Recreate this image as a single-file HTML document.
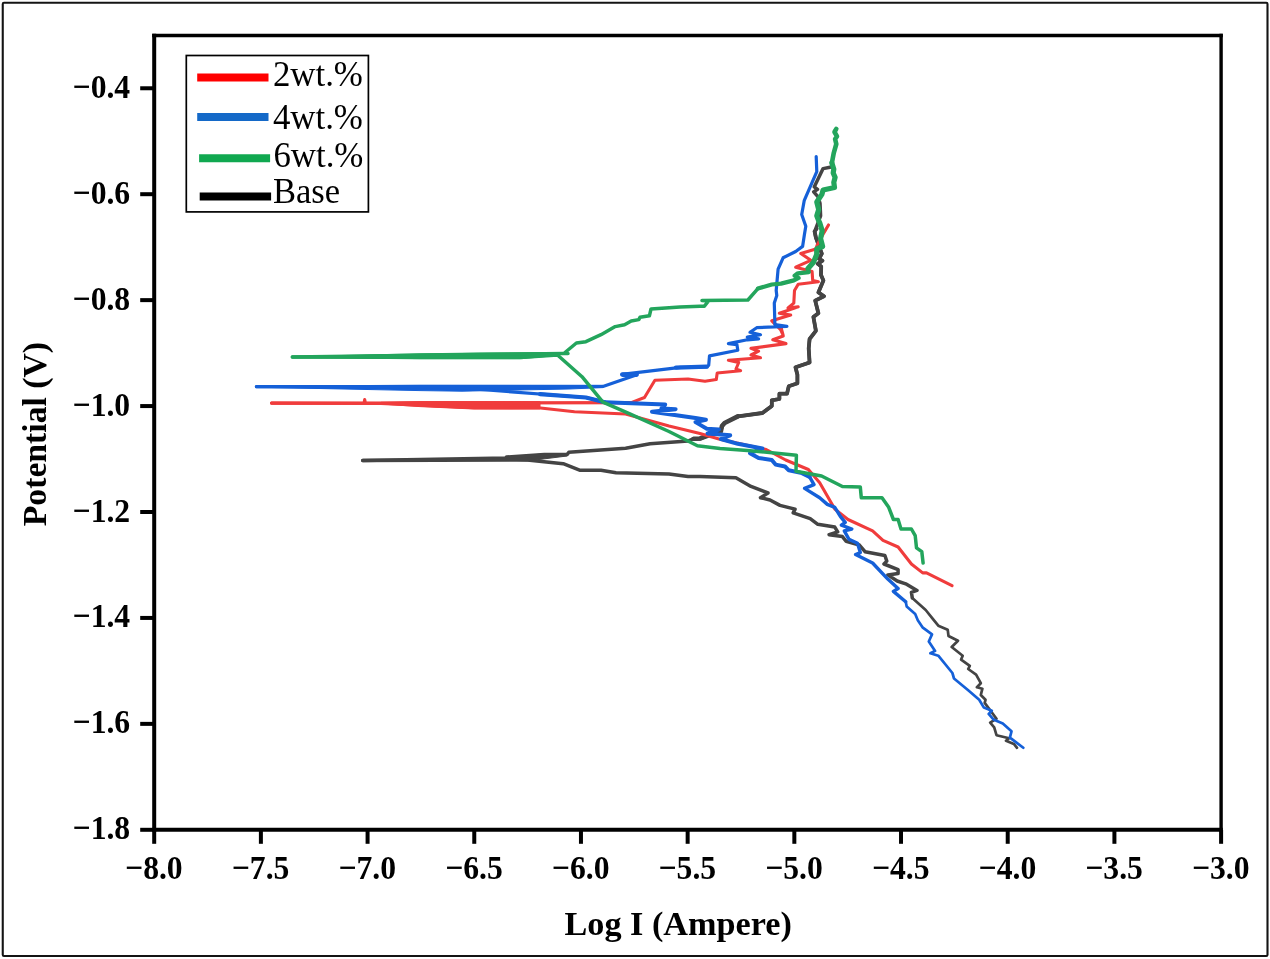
<!DOCTYPE html>
<html lang="en"><head><meta charset="utf-8"><title>Tafel polarization curves</title>
<style>
html,body{margin:0;padding:0;background:#fff;}
body{width:1270px;height:959px;overflow:hidden;}
svg{display:block;}
text{font-family:"Liberation Serif","DejaVu Serif",serif;fill:#000;}
.tk{font-size:34px;font-weight:700;}
.ttl{font-size:34px;font-weight:700;}
.lg{font-size:35.8px;font-weight:400;}
</style></head><body>
<svg width="1270" height="959" viewBox="0 0 1270 959">
<rect x="2.75" y="2.8" width="1264.75" height="953.20" rx="1.2" fill="#fff" stroke="#141414" stroke-width="2.1"/>
<line x1="154.20" y1="829.80" x2="154.20" y2="843.80" stroke="#000" stroke-width="4"/>
<text x="153.90" y="878.8" text-anchor="middle" class="tk" textLength="57.6" lengthAdjust="spacingAndGlyphs">−8.0</text>
<line x1="260.89" y1="829.80" x2="260.89" y2="843.80" stroke="#000" stroke-width="4"/>
<text x="260.59" y="878.8" text-anchor="middle" class="tk" textLength="57.6" lengthAdjust="spacingAndGlyphs">−7.5</text>
<line x1="367.58" y1="829.80" x2="367.58" y2="843.80" stroke="#000" stroke-width="4"/>
<text x="367.28" y="878.8" text-anchor="middle" class="tk" textLength="57.6" lengthAdjust="spacingAndGlyphs">−7.0</text>
<line x1="474.27" y1="829.80" x2="474.27" y2="843.80" stroke="#000" stroke-width="4"/>
<text x="473.97" y="878.8" text-anchor="middle" class="tk" textLength="57.6" lengthAdjust="spacingAndGlyphs">−6.5</text>
<line x1="580.96" y1="829.80" x2="580.96" y2="843.80" stroke="#000" stroke-width="4"/>
<text x="580.66" y="878.8" text-anchor="middle" class="tk" textLength="57.6" lengthAdjust="spacingAndGlyphs">−6.0</text>
<line x1="687.65" y1="829.80" x2="687.65" y2="843.80" stroke="#000" stroke-width="4"/>
<text x="687.35" y="878.8" text-anchor="middle" class="tk" textLength="57.6" lengthAdjust="spacingAndGlyphs">−5.5</text>
<line x1="794.34" y1="829.80" x2="794.34" y2="843.80" stroke="#000" stroke-width="4"/>
<text x="794.04" y="878.8" text-anchor="middle" class="tk" textLength="57.6" lengthAdjust="spacingAndGlyphs">−5.0</text>
<line x1="901.03" y1="829.80" x2="901.03" y2="843.80" stroke="#000" stroke-width="4"/>
<text x="900.73" y="878.8" text-anchor="middle" class="tk" textLength="57.6" lengthAdjust="spacingAndGlyphs">−4.5</text>
<line x1="1007.72" y1="829.80" x2="1007.72" y2="843.80" stroke="#000" stroke-width="4"/>
<text x="1007.42" y="878.8" text-anchor="middle" class="tk" textLength="57.6" lengthAdjust="spacingAndGlyphs">−4.0</text>
<line x1="1114.41" y1="829.80" x2="1114.41" y2="843.80" stroke="#000" stroke-width="4"/>
<text x="1114.11" y="878.8" text-anchor="middle" class="tk" textLength="57.6" lengthAdjust="spacingAndGlyphs">−3.5</text>
<line x1="1221.10" y1="829.80" x2="1221.10" y2="843.80" stroke="#000" stroke-width="4"/>
<text x="1220.80" y="878.8" text-anchor="middle" class="tk" textLength="57.6" lengthAdjust="spacingAndGlyphs">−3.0</text>
<line x1="140.20" y1="88.27" x2="154.20" y2="88.27" stroke="#000" stroke-width="4"/>
<text x="130.2" y="97.77" text-anchor="end" class="tk" textLength="57.6" lengthAdjust="spacingAndGlyphs">−0.4</text>
<line x1="140.20" y1="194.20" x2="154.20" y2="194.20" stroke="#000" stroke-width="4"/>
<text x="130.2" y="203.70" text-anchor="end" class="tk" textLength="57.6" lengthAdjust="spacingAndGlyphs">−0.6</text>
<line x1="140.20" y1="300.13" x2="154.20" y2="300.13" stroke="#000" stroke-width="4"/>
<text x="130.2" y="309.63" text-anchor="end" class="tk" textLength="57.6" lengthAdjust="spacingAndGlyphs">−0.8</text>
<line x1="140.20" y1="406.07" x2="154.20" y2="406.07" stroke="#000" stroke-width="4"/>
<text x="130.2" y="415.57" text-anchor="end" class="tk" textLength="57.6" lengthAdjust="spacingAndGlyphs">−1.0</text>
<line x1="140.20" y1="512.00" x2="154.20" y2="512.00" stroke="#000" stroke-width="4"/>
<text x="130.2" y="521.50" text-anchor="end" class="tk" textLength="57.6" lengthAdjust="spacingAndGlyphs">−1.2</text>
<line x1="140.20" y1="617.93" x2="154.20" y2="617.93" stroke="#000" stroke-width="4"/>
<text x="130.2" y="627.43" text-anchor="end" class="tk" textLength="57.6" lengthAdjust="spacingAndGlyphs">−1.4</text>
<line x1="140.20" y1="723.87" x2="154.20" y2="723.87" stroke="#000" stroke-width="4"/>
<text x="130.2" y="733.37" text-anchor="end" class="tk" textLength="57.6" lengthAdjust="spacingAndGlyphs">−1.6</text>
<line x1="140.20" y1="829.80" x2="154.20" y2="829.80" stroke="#000" stroke-width="4"/>
<text x="130.2" y="839.30" text-anchor="end" class="tk" textLength="57.6" lengthAdjust="spacingAndGlyphs">−1.8</text>
<path d="M154.20 831.85V33.80" fill="none" stroke="#000" stroke-width="4"/>
<path d="M152.20 829.80H1222.80" fill="none" stroke="#000" stroke-width="4.1"/>
<path d="M152.20 35.55H1222.80" fill="none" stroke="#000" stroke-width="3.5"/>
<path d="M1221.10 831.85V33.80" fill="none" stroke="#000" stroke-width="3.4"/>
<text x="678.2" y="934.6" text-anchor="middle" class="ttl" textLength="227.4" lengthAdjust="spacingAndGlyphs">Log I (Ampere)</text>
<text transform="translate(45.9 434.1) rotate(-90)" text-anchor="middle" class="ttl" textLength="184.3" lengthAdjust="spacingAndGlyphs">Potential (V)</text>
<rect x="186.3" y="55.5" width="182.1" height="156.4" fill="#fff" stroke="#000" stroke-width="1.7"/>
<line x1="197.2" y1="77.4" x2="268.5" y2="77.4" stroke="#ff0000" stroke-width="8"/>
<text x="272.9" y="86.1" class="lg" textLength="90.0" lengthAdjust="spacingAndGlyphs">2wt.%</text>
<line x1="197.2" y1="117.1" x2="268.5" y2="117.1" stroke="#1469c8" stroke-width="8"/>
<text x="272.9" y="129.3" class="lg" textLength="90.0" lengthAdjust="spacingAndGlyphs">4wt.%</text>
<line x1="199.1" y1="158.2" x2="270.1" y2="158.2" stroke="#10a850" stroke-width="8"/>
<text x="273.4" y="167.2" class="lg" textLength="90.0" lengthAdjust="spacingAndGlyphs">6wt.%</text>
<line x1="199.7" y1="196.5" x2="271.1" y2="196.5" stroke="#000000" stroke-width="8"/>
<text x="272.9" y="203.0" class="lg" textLength="67.2" lengthAdjust="spacingAndGlyphs">Base</text>
<g>
<polygon points="506.0,457.3 544.0,453.8 567.0,453.8 567.0,456.0 527.0,461.0 506.0,460.0" fill="#444444" stroke="#444444" stroke-width="1" stroke-linejoin="round"/>
<polyline points="362.7,460.5 507.0,458.0 506.5,457.0 544.3,454.6 567.0,454.6 568.8,452.3 625.6,448.2 650.1,443.8 688.0,441.0 693.6,438.7 700.0,439.0 712.0,434.0 720.8,431.5 722.0,426.0 724.6,423.0 737.8,416.4 762.4,413.0 771.8,406.0 771.8,400.3 779.4,399.0 779.4,393.7 787.0,393.7 788.8,386.2 797.4,383.3 797.4,374.8 795.5,367.3 809.6,362.5 808.7,348.4 809.6,339.0 815.9,330.8 813.4,317.0 818.4,313.2 815.2,300.6 824.0,296.2 818.4,292.4 823.4,280.5 821.0,275.0 821.2,266.5 817.8,263.8 822.4,260.7 819.0,258.8 821.8,253.6 815.9,237.6 814.6,231.3 816.5,228.8 815.6,229.0 820.6,215.8 820.0,203.2 818.1,196.9 813.7,191.9 817.5,189.3 814.3,186.8 823.1,168.6 830.0,167.3" fill="none" stroke="#444444" stroke-width="3.5" stroke-linejoin="round" stroke-linecap="round" />
<polyline points="737.8,416.4 762.4,413.0 771.8,406.0 771.8,400.3 779.4,399.0 779.4,393.7 787.0,393.7 788.8,386.2 797.4,383.3 797.4,374.8 795.5,367.3 809.6,362.5 808.7,348.4 809.6,339.0 815.9,330.8 813.4,317.0 818.4,313.2 815.2,300.6 824.0,296.2 818.4,292.4 823.4,280.5 821.0,275.0 821.2,266.5 817.8,263.8 822.4,260.7 819.0,258.8 821.8,253.6 815.9,237.6 814.6,231.3 816.5,228.8" fill="none" stroke="#444444" stroke-width="3.8" stroke-linejoin="round" stroke-linecap="round" />
<polyline points="693.6,438.7 700.0,438.5 712.0,434.0 720.8,431.5 722.0,426.0 724.6,423.0 737.8,416.4" fill="none" stroke="#444444" stroke-width="4.6" stroke-linejoin="round" stroke-linecap="round" />
<polyline points="362.7,460.5 527.3,459.9 563.2,463.7 580.2,470.3 601.0,470.3 616.0,472.7 669.0,474.1 688.0,476.5 700.0,476.5 735.9,477.8 751.0,486.4 768.0,493.0 760.5,497.7 770.0,500.0 780.0,505.4 795.1,509.1 793.2,512.9 810.2,518.6 817.8,524.3 834.8,527.1 837.7,531.8 829.1,534.7 842.4,536.6 846.2,541.3 859.4,545.0 865.0,551.7 884.9,555.5 886.8,561.1 884.0,564.0 898.1,569.6 898.1,573.4 887.8,574.9 897.2,581.0 905.7,583.8 917.0,590.4 911.4,592.3 912.3,598.0" fill="none" stroke="#444444" stroke-width="3.5" stroke-linejoin="round" stroke-linecap="round" />
<polyline points="912.3,598.0 925.7,610.0 932.0,617.9 938.3,625.7 947.7,629.7 948.5,636.0 958.0,640.7 951.7,647.0 962.7,655.7 961.1,659.6 969.8,665.9 968.2,669.0 976.1,674.6 980.8,683.2 976.9,687.2 982.4,688.7 980.8,695.0 985.5,699.8 984.7,702.9 996.5,718.7 990.2,722.6 994.2,727.3 996.5,735.2 1009.1,738.3 1006.0,740.7 1013.9,743.9 1017.0,747.8" fill="none" stroke="#444444" stroke-width="2.7" stroke-linejoin="round" stroke-linecap="round" />
<polygon points="381.0,402.3 420.0,401.6 540.0,401.6 540.0,408.8 474.0,409.0 420.0,406.6 381.0,404.0" fill="#f03c3c" stroke="#f03c3c" stroke-width="1" stroke-linejoin="round"/>
<polyline points="271.5,403.1 364.0,403.1 364.7,399.6 365.4,403.1 631.2,402.6 644.5,397.5 654.9,380.3 688.0,379.0 705.0,381.2 716.3,379.5 717.2,373.0 740.6,370.7 736.0,369.0 738.7,362.5 728.4,360.3 760.5,357.8 751.0,355.0 758.6,351.2 751.0,348.4 786.0,343.6 772.8,339.8 783.2,336.0 781.3,328.5 783.1,335.2 780.6,329.6 771.8,320.8 790.7,315.1 779.3,313.2 798.2,306.9 788.0,308.0 793.8,303.1 794.5,290.5 798.2,284.2 818.4,281.7 812.7,280.5 812.1,271.6 795.7,267.2 810.8,260.3 800.8,253.4 815.9,249.0 817.1,245.2 824.0,232.6 828.5,225.0" fill="none" stroke="#f03c3c" stroke-width="3.1" stroke-linejoin="round" stroke-linecap="round" />
<polyline points="271.5,403.1 381.0,403.5 474.0,407.7 540.5,408.0 574.5,411.7 625.6,414.0 669.0,425.9 700.0,433.4 718.9,439.0 766.2,449.5 785.7,460.0 808.4,469.5 819.7,482.7 834.8,509.1 848.0,519.5 872.6,530.9 883.0,540.3 898.1,547.0 911.4,564.0 922.7,572.9 926.5,572.9 952.0,585.7" fill="none" stroke="#f03c3c" stroke-width="3.1" stroke-linejoin="round" stroke-linecap="round" />
<polygon points="256.4,386.2 420.0,385.2 603.0,385.3 603.0,387.6 569.0,389.0 508.0,390.2 462.0,391.2 420.0,390.6 256.4,387.2" fill="#1560d8" stroke="#1560d8" stroke-width="1" stroke-linejoin="round"/>
<polyline points="256.4,386.7 602.9,386.5 636.9,374.8 621.8,374.4 680.4,367.3 706.8,367.0 708.7,365.4 709.5,355.9 737.8,350.2 736.9,344.6 728.4,343.6 747.3,339.8 758.6,338.9 747.3,337.0 760.5,334.7 750.0,332.3 756.7,327.7 786.9,326.4 774.9,324.5 774.3,303.1 776.8,295.6 776.2,290.5 778.1,269.1 783.1,257.8 795.7,251.5 802.6,246.4 804.5,233.9 805.8,226.3 801.7,214.5 804.2,200.7 816.8,171.7 816.2,156.6" fill="none" stroke="#1560d8" stroke-width="3.2" stroke-linejoin="round" stroke-linecap="round" />
<polyline points="676.0,367.6 706.8,366.6" fill="none" stroke="#1560d8" stroke-width="4.4" stroke-linejoin="round" stroke-linecap="round" />
<polyline points="622.5,374.6 636.5,374.6" fill="none" stroke="#1560d8" stroke-width="4.6" stroke-linejoin="round" stroke-linecap="round" />
<polyline points="540.0,394.2 585.9,397.5 604.8,402.2" fill="none" stroke="#1560d8" stroke-width="4.2" stroke-linejoin="round" stroke-linecap="round" />
<polyline points="256.4,386.7 454.0,387.5 506.5,391.5 585.9,397.5 604.8,402.2" fill="none" stroke="#1560d8" stroke-width="3.2" stroke-linejoin="round" stroke-linecap="round" />
<polyline points="604.8,402.2 665.2,404.5 661.5,408.4 675.6,409.2 652.0,411.7 695.5,417.9 705.9,419.8 695.5,422.1 700.2,424.9 706.8,428.7 718.9,429.6 707.6,433.4 730.2,435.3 720.8,439.0 737.8,443.8 762.4,448.5 750.0,453.3 758.6,458.0 771.8,459.9 775.6,464.6 785.0,466.5 788.8,470.3 802.0,473.1 809.6,476.9" fill="none" stroke="#1560d8" stroke-width="4.0" stroke-linejoin="round" stroke-linecap="round" />
<polyline points="809.6,476.9 814.0,484.6 804.6,488.4 819.7,497.8 827.3,504.4 834.8,507.3 840.5,516.7 845.2,522.4 841.4,525.2 851.8,529.0 844.3,530.9 849.0,539.4 857.5,543.2 860.3,552.6 855.6,554.5 872.6,563.0 887.8,579.1 898.1,588.5 893.4,591.4 905.7,601.8" fill="none" stroke="#1560d8" stroke-width="3.4" stroke-linejoin="round" stroke-linecap="round" />
<polyline points="905.7,601.8 906.7,606.5 915.2,614.0 917.8,620.2 922.5,627.3 932.0,634.4 928.8,641.5 935.1,650.9 930.4,653.3 938.3,655.7 952.4,673.0 954.0,678.5 968.2,690.3 979.2,699.8 983.9,707.6 991.8,710.8 988.7,713.9 993.4,719.4 1002.8,723.4 1011.5,731.3 1009.9,737.6 1023.3,747.8" fill="none" stroke="#1560d8" stroke-width="2.7" stroke-linejoin="round" stroke-linecap="round" />
<polygon points="292.4,356.6 420.0,353.8 480.0,353.0 557.0,352.6 557.0,355.5 522.0,358.6 420.0,358.8 292.4,357.6" fill="#23a55c" stroke="#23a55c" stroke-width="1" stroke-linejoin="round"/>
<polyline points="292.4,357.0 480.0,354.5 563.2,353.6 568.0,353.6 565.0,352.5 576.4,343.0 585.9,341.7 601.0,334.7 615.2,326.6 624.6,324.7 631.2,321.0 638.8,319.6 640.0,317.3 649.4,315.8 651.0,309.0 680.0,307.0 700.0,306.2 704.4,306.2 708.5,301.0 702.0,300.5 747.9,300.0 757.9,288.6" fill="none" stroke="#23a55c" stroke-width="3.5" stroke-linejoin="round" stroke-linecap="round" />
<polyline points="757.9,288.6 771.8,284.5 781.0,283.6 793.9,280.4 798.6,278.0 794.6,275.6 797.8,273.3 808.8,272.1 808.0,268.5" fill="none" stroke="#23a55c" stroke-width="4.2" stroke-linejoin="round" stroke-linecap="round" />
<polyline points="808.0,268.5 813.5,262.2 816.7,254.4 816.7,248.9 822.6,246.5 820.6,238.6 822.2,230.7 819.8,222.9 818.7,220.8 816.8,215.8 818.7,209.5 816.8,202.0 821.9,194.4 823.1,190.0 834.5,187.5 833.8,182.4 835.1,177.4 833.2,173.0 833.8,169.2 831.9,162.9" fill="none" stroke="#23a55c" stroke-width="5.2" stroke-linejoin="round" stroke-linecap="round" />
<polyline points="831.9,162.9 833.8,152.8 836.3,144.0 835.1,139.0 837.0,136.4 834.5,132.0 836.3,128.9" fill="none" stroke="#23a55c" stroke-width="4.6" stroke-linejoin="round" stroke-linecap="round" />
<polyline points="292.4,357.0 520.0,357.5 557.5,355.0 582.0,376.7 602.9,402.2 629.3,413.6 669.0,431.5 697.4,445.7 720.0,448.5 747.3,450.4 796.4,455.2 796.0,471.3 821.6,476.0 842.4,486.5 860.3,487.0 861.3,497.8 882.0,497.8 888.7,507.3 893.4,519.5 898.1,519.5 901.0,529.0 911.4,529.0 915.2,535.6 916.5,547.9 921.8,551.7 923.1,563.0" fill="none" stroke="#23a55c" stroke-width="3.5" stroke-linejoin="round" stroke-linecap="round" />
</g>
</svg>
</body></html>
